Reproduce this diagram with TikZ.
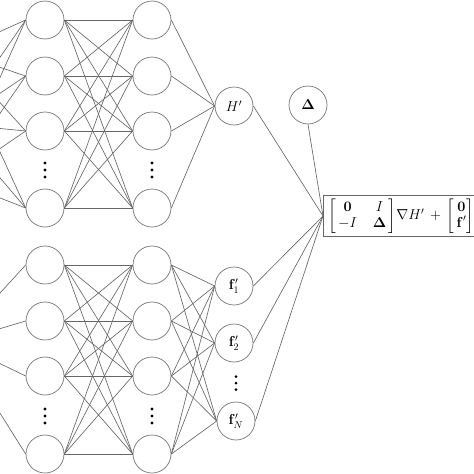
\documentclass[tikz,border=0pt]{standalone}
\usepackage{amsmath}
\tikzset{
  neuron/.style={circle,draw=black!55,line width=0.7pt,minimum size=38pt,inner sep=0pt,font=\fontsize{14}{16}\selectfont},
  wire/.style={draw=black!60,line width=0.65pt},
  outbox/.style={draw=black!60,line width=0.7pt,minimum height=38pt,inner xsep=5pt,font=\fontsize{14}{16}\selectfont}
}
\begin{document}
\begin{tikzpicture}[x=1pt,y=-1pt]
  \useasboundingbox (0,0) rectangle (474,474);
  \clip (0,0) rectangle (474,474);
  % inputs, outside the frame
  \node[neuron] (x1) at (-65,52) {};
  \node[neuron] (x2) at (-65,124) {};
  \node[neuron] (x3) at (-65,180) {};
  \node[neuron] (t) at (-64,342) {};
  % hidden layers
  \foreach \i/\y in {1/20,2/76,3/131,4/208}{
    \node[neuron] (a\i) at (45,\y) {};
    \node[neuron] (b\i) at (152,\y) {};
  }
  \foreach \i/\y in {1/265,2/321,3/376,4/454}{
    \node[neuron] (c\i) at (45,\y) {};
    \node[neuron] (d\i) at (152,\y) {};
  }
  % outputs
  \node[neuron] (H) at (234,106) {$H'$};
  \node[neuron] (D) at (308,105) {$\mathbf{\Delta}$};
  \node[neuron] (f1) at (234,286) {$\mathbf{f}'_1$};
  \node[neuron] (f2) at (234,343) {$\mathbf{f}'_2$};
  \node[neuron] (f3) at (236,421) {$\mathbf{f}'_N$};
  \node[outbox,anchor=west] (out) at (323,216)
    {$\left[\begin{array}{@{\,}c@{\hspace{16pt}}c@{\,}}\mathbf{0} & I\\ -I & \mathbf{\Delta}\end{array}\right]\!\nabla H' \,+\, \left[\begin{array}{@{\,}c@{}}\mathbf{0}\\ \mathbf{f}'\end{array}\right]\hspace{8pt}$};
  % connections
  \foreach \i in {1,2,3,4}{
    \foreach \j in {1,2,3} \draw[wire] (x\j.east) -- (a\i.west);
    \draw[wire] (t.east) -- (c\i.west);
    \foreach \j in {1,2,3,4}{
      \draw[wire] (a\i.east) -- (b\j.west);
      \draw[wire] (c\i.east) -- (d\j.west);
    }
    \draw[wire] (b\i.east) -- (H.west);
    \foreach \k in {1,2,3} \draw[wire] (d\i.east) -- (f\k.west);
  }
  \draw[wire] (H.east) -- (out.west);
  \draw[wire] (D.south) -- (out.west);
  \foreach \k in {1,2,3} \draw[wire] (f\k.east) -- (out.west);
  % dots
  \foreach \x/\y in {45/170,152/170,45/416,152/416}
    \foreach \d in {-7,0,7} \fill (\x,\y+\d) circle (1.6pt);
  \foreach \d in {-6.5,0,6.5} \fill (236,383+\d) circle (1.5pt);
\end{tikzpicture}
\end{document}
